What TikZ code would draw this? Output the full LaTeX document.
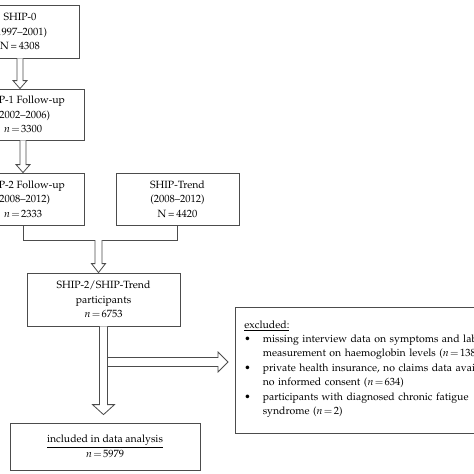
\documentclass[tikz,border=0pt]{standalone}
\usepackage[T1]{fontenc}
\usepackage{mathpazo}
\usetikzlibrary{calc}

\thickmuskip=2mu

\tikzset{
  box/.style={draw=black!70, rectangle, align=center, inner sep=0pt,
    font=\fontsize{10.5}{14.5}\selectfont},
  blk/.style={draw=black!70, fill=white, line join=miter}
}

% hollow block arrow going down: from, to, half shaft, half head, head length
\newcommand{\vblock}[5]{%
  \draw[blk] let \p1=(#1), \p2=(#2) in
    (\x1-#3pt,\y1) -- (\x1-#3pt,\y2+#5pt) -- (\x1-#4pt,\y2+#5pt) -- (\x1,\y2)
    -- (\x1+#4pt,\y2+#5pt) -- (\x1+#3pt,\y2+#5pt) -- (\x1+#3pt,\y1);}
% hollow block arrow going right
\newcommand{\hblock}[5]{%
  \draw[blk] let \p1=(#1), \p2=(#2) in
    (\x1,\y1+#3pt) -- (\x2-#5pt,\y1+#3pt) -- (\x2-#5pt,\y1+#4pt) -- (\x2,\y1)
    -- (\x2-#5pt,\y1-#4pt) -- (\x2-#5pt,\y1-#3pt) -- (\x1,\y1-#3pt);}

\begin{document}
\begin{tikzpicture}[x=1pt,y=-1pt,line width=0.8pt]
  \useasboundingbox (0,0) rectangle (474,474);
  \clip (0,0) rectangle (474,474);

  \node[box, minimum width=118pt, minimum height=53pt] (s0) at (20,31.5)
    {SHIP-0\\(1997--2001)\\N\,=\,4308};
  \node[box, minimum width=122pt, minimum height=51pt] (s1) at (23,114.5)
    {SHIP-1 Follow-up\\(2002--2006)\\$n = 3300$};
  \node[box, minimum width=122pt, minimum height=52pt] (s2) at (23,199)
    {SHIP-2 Follow-up\\(2008--2012)\\$n = 2333$};
  \node[box, minimum width=123pt, minimum height=52pt] (trend) at (177.5,199)
    {SHIP-Trend\\(2008--2012)\\N\,=\,4420};
  \node[box, minimum width=153pt, minimum height=53pt] (part) at (103.5,299.5)
    {SHIP-2/SHIP-Trend\\participants\\$n = 6753$};
  \node[box, minimum width=190pt, minimum height=47pt] (incl) at (105,446.5)
    {\underline{included in data analysis}\\$n = 5979$};
  \node[box, anchor=west, text width=272pt, inner xsep=9pt, align=left,
    minimum height=126pt] (excl) at (235,370)
    {\underline{excluded:}\\
     \begin{tabular}{@{}l@{\hspace{12pt}}l@{}}
       \textbullet & missing interview data on symptoms and laboratory\\
                   & measurement on haemoglobin levels ($n = 138$)\\
       \textbullet & private health insurance, no claims data available,\\
                   & no informed consent ($n = 634$)\\
       \textbullet & participants with diagnosed chronic fatigue\\
                   & syndrome ($n = 2$)
     \end{tabular}};

  \coordinate (m) at (98.5,240);
  \coordinate (br) at (108,362);
  \coordinate (incltip) at ($(incl.north)+(0,-8)$);
  \coordinate (extip) at ($(excl.west)+(-7,0)$);

  \vblock{s0.south}{s1.north}{3}{7}{8}
  \vblock{s1.south}{s2.north}{3}{7}{8}
  \draw[black!70] (s2.south) -- (s2.south |- m) -| (trend.south);
  \vblock{m}{part.north}{3.5}{7}{9}
  \vblock{part.south}{incltip}{4}{11}{10}
  \hblock{br}{extip}{4.5}{10}{10}
\end{tikzpicture}
\end{document}
